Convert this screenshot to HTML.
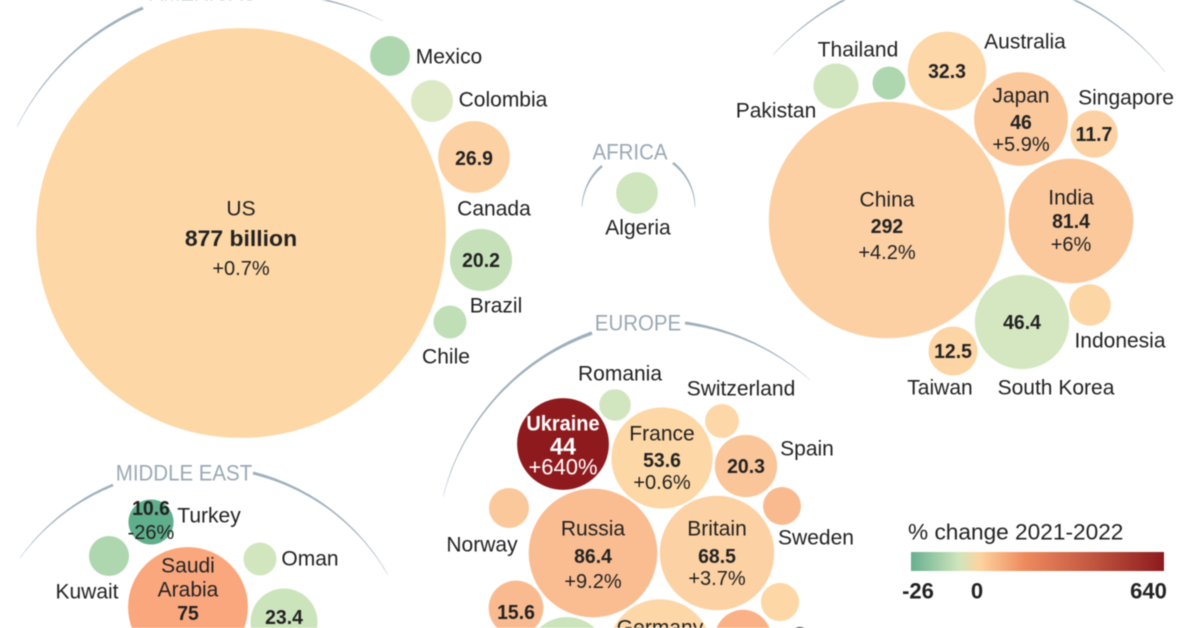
<!DOCTYPE html>
<html lang="en">
<head>
<meta charset="utf-8">
<title>Military spending by country</title>
<style>
  html, body { margin: 0; padding: 0; background: #fff; width: 1200px; height: 628px; overflow: hidden; }
  #chart { display: block; width: 1200px; height: 628px; overflow: hidden; filter: blur(0.4px); font-family: "Liberation Sans", sans-serif; }
</style>
</head>
<body>
<svg id="chart" xmlns="http://www.w3.org/2000/svg" width="1200" height="628" viewBox="0 0 1200 628"></svg>
<script>
/* ---------- data ---------- */
const countries = ["US","Mexico","Colombia","Canada","Brazil","Chile","Algeria","China","Pakistan","Thailand","Australia","Japan","Singapore","India","Indonesia","South Korea","Taiwan","Turkey","Kuwait","Saudi Arabia","Oman","Israel","Ukraine","Romania","France","Switzerland","Spain","Sweden","Norway","Russia","Britain","Netherlands","Greece","Italy","Germany","Poland"];
const spending = [877,8.3,9.2,26.9,20.2,5.7,9.1,292,10.6,5.7,32.3,46,11.7,81.4,9,46.4,12.5,10.6,8.4,75,5.7,23.4,44,5.2,53.6,6,20.3,7.5,8.4,86.4,68.5,15.6,7.6,33.5,55.8,16.6];
const changes = [0.7,-9,-1.5,3,-5,-6,-3.5,4.2,-3,-9,0.5,5.9,3,6,1,-2.5,2,-26,-9,16,-3,-4,640,-3,0.6,0.5,7,10,6,9.2,3.7,10,0.7,-4,0.5,13];
const valueLabels = {"US":"877 billion","Canada":"26.9","Brazil":"20.2","China":"292","Australia":"32.3","Japan":"46","Singapore":"11.7","India":"81.4","South Korea":"46.4","Taiwan":"12.5","Turkey":"10.6","Saudi Arabia":"75","Israel":"23.4","Ukraine":"44","France":"53.6","Spain":"20.3","Russia":"86.4","Britain":"68.5","Netherlands":"15.6","Germany":"55.8"};
const changeLabels = {"US":"+0.7%","China":"+4.2%","Japan":"+5.9%","India":"+6%","Turkey":"-26%","Saudi Arabia":"+16%","Ukraine":"+640%","France":"+0.6%","Russia":"+9.2%","Britain":"+3.7%","Germany":"+2.3%"};
const regionNames = ["AMERICAS","AFRICA","EUROPE","MIDDLE EAST"];
const legendTitle = "% change 2021-2022";
const legendTicks = [-26,0,640];

/* ---------- layout (packing, not data) ---------- */
const packing = {
  "US":[241,233],"Mexico":[390,56],"Colombia":[432,101],"Canada":[474,157],"Brazil":[481,260],"Chile":[450,322],
  "Algeria":[637,193],"China":[887,220],"Pakistan":[836,86],"Thailand":[889,83],"Australia":[947,71],"Japan":[1021,119],
  "Singapore":[1094,134],"India":[1071,221],"Indonesia":[1090,305],"South Korea":[1022,322],"Taiwan":[953,351],
  "Turkey":[151,522],"Kuwait":[109,556],"Saudi Arabia":[188,607],"Oman":[260,559],"Israel":[284,622],
  "Ukraine":[563,444],"Romania":[615,405],"France":[662,458],"Switzerland":[722,421],"Spain":[746,466],"Sweden":[782,506],
  "Norway":[509,508],"Russia":[593,553],"Britain":[717,553],"Netherlands":[516,608],"Greece":[780,602],"Italy":[567,657],
  "Germany":[660,651],"Poland":[743,638]
};
const outerLabels = {
  "Mexico":[449,56],"Colombia":[503,99],"Canada":[494,208],"Brazil":[496,305],"Chile":[446,356],"Algeria":[638,227],
  "Thailand":[858,49],"Pakistan":[776,110],"Australia":[1025,41],"Singapore":[1126,97],"Indonesia":[1120,340],
  "Taiwan":[940,387],"South Korea":[1056,387],"Romania":[620,373],"Switzerland":[741,388],"Spain":[807,448],
  "Sweden":[816,537],"Norway":[482,544],"Turkey":[209,515],"Oman":[310,558],"Kuwait":[87,591],"Greece":[826,634]
};
const innerOffsets = {
  "US":[-25,5,35],"China":[-21,6,32],"Japan":[-24,3,25],"India":[-24,0,23],"Ukraine":[-21,2,23],"France":[-25,2,24],
  "Russia":[-25,3,28],"Britain":[-25,3,25],"Germany":[-24,3,27],"Turkey":[null,-14,10],
  "Saudi Arabia":[-42,6,33],"Canada":[null,1,null],"Brazil":[null,0,null],"Australia":[null,0,null],"Singapore":[null,0,null],
  "South Korea":[null,0,null],"Taiwan":[null,0,null],"Israel":[null,-5,null],"Spain":[null,0,null],"Netherlands":[null,4,null]
};
const regionTitles = [[203,-7],[630,152],[638,323],[184,473]];
const arcs = [
  [143,8,17,127,250,3,0.3],[310,-3,383,21,250,2,0.3],
  [850,-3,773,55,258,2,0.3],[1068,-3,1165,72,258,2,0.3],
  [602,166,582,207,57,2.5,0.5],[673,163,695,207,57,2.5,0.5],
  [592,333,443,497,235,3.4,0.3],[685,323,810,380,235,3,0.3],
  [113,485,20,558,215,2.6,0.3],[253,473,388,575,215,3,0.3]
];

/* ---------- scales ---------- */
function radius(v) { return 6.92 * Math.sqrt(v); }
const colorDomain = [-26,-9,-3,-1.5,0,1,4.2,6,9.2,16,50,640];
const colorRange = ["#5fae8c","#afd7af","#d1e6bf","#dde9c5","#fdd8a8","#fdd6a5","#fcd0a3","#fbc89c","#f9bd91","#faa77d","#ee8a5e","#8e1a1e"];
function hex(c) { return [1,3,5].map(function (i) { return parseInt(c.substr(i,2),16); }); }
function color(ch) {
  for (let i = 0; i < colorDomain.length - 1; i++) {
    if (ch <= colorDomain[i + 1]) {
      const t = Math.max(0, (ch - colorDomain[i]) / (colorDomain[i + 1] - colorDomain[i]));
      const a = hex(colorRange[i]), b = hex(colorRange[i + 1]);
      return "rgb(" + a.map(function (x, k) { return Math.round(x + (b[k] - x) * t); }).join(",") + ")";
    }
  }
  return colorRange[colorRange.length - 1];
}
function legendX(ch) { return ch <= 0 ? 977 + ch / 26 * 59 : 977 + ch / 640 * 171.5; }

/* ---------- helpers ---------- */
const NS = "http://www.w3.org/2000/svg";
const svg = document.getElementById("chart");
function make(tag, attrs, parent) {
  const e = document.createElementNS(NS, tag);
  for (const k in attrs) e.setAttribute(k, attrs[k]);
  (parent || svg).appendChild(e);
  return e;
}
function label(str, x, y, size, fill, weight, anchor, squeeze) {
  const t = make("text", { x: x, y: y + size * 0.35, "font-size": size, fill: fill, "font-weight": weight || "normal", "text-anchor": anchor || "middle" });
  t.textContent = str;
  const w = t.getComputedTextLength();
  t.setAttribute("textLength", (w * (squeeze || 1)).toFixed(1));
  t.setAttribute("lengthAdjust", "spacingAndGlyphs");
  return t;
}
function taperedArc(x0, y0, x1, y1, R, w0, w1) {
  const mx = (x0 + x1) / 2, my = (y0 + y1) / 2, dx = x1 - x0, dy = y1 - y0, len = Math.hypot(dx, dy);
  const h = Math.sqrt(Math.max(0, R * R - len * len / 4));
  const options = [[mx - dy / len * h, my + dx / len * h], [mx + dy / len * h, my - dx / len * h]];
  const c = options[0][1] > options[1][1] ? options[0] : options[1];
  let a0 = Math.atan2(y0 - c[1], x0 - c[0]), a1 = Math.atan2(y1 - c[1], x1 - c[0]);
  if (a1 - a0 > Math.PI) a1 -= 2 * Math.PI;
  if (a0 - a1 > Math.PI) a1 += 2 * Math.PI;
  const outer = [], inner = [];
  for (let i = 0; i <= 40; i++) {
    const t = i / 40, a = a0 + (a1 - a0) * t, w = w0 + (w1 - w0) * t;
    outer.push((c[0] + (R + w / 2) * Math.cos(a)).toFixed(1) + " " + (c[1] + (R + w / 2) * Math.sin(a)).toFixed(1));
    inner.unshift((c[0] + (R - w / 2) * Math.cos(a)).toFixed(1) + " " + (c[1] + (R - w / 2) * Math.sin(a)).toFixed(1));
  }
  return "M" + outer.join("L") + "L" + inner.join("L") + "Z";
}

/* ---------- region arcs and titles ---------- */
arcs.forEach(function (a) {
  const p = make("path", { d: taperedArc(a[0], a[1], a[2], a[3], a[4], a[5], a[6]), fill: "#9fb0bd" });
  
  
});
regionNames.forEach(function (r, i) {
  const t = label(r, regionTitles[i][0], regionTitles[i][1], 22, "#9aa8b4", "normal", "middle", 0.93);
  
  
});

/* ---------- bubbles ---------- */
countries.forEach(function (name, i) {
  const pos = packing[name];
  const slug = name.toLowerCase().replace(/ /g, "-");
  const c = make("circle", { cx: pos[0], cy: pos[1], r: radius(spending[i]).toFixed(2), fill: color(changes[i]) });
  
  
});

/* ---------- labels ---------- */
countries.forEach(function (name, i) {
  const pos = packing[name];
  const slug = name.toLowerCase().replace(/ /g, "-");
  const out = outerLabels[name];
  if (out) {
    const t = label(name, out[0], out[1], 21, "#222", "normal", "middle", 1);
    
    
  }
  const off = innerOffsets[name];
  if (!off) return;
  const big = name === "US";
  const isUkraine = name === "Ukraine";
  const ink = isUkraine ? "#fff" : "#222";
  if (off[0] !== null) {
    const lines = name === "Saudi Arabia" ? ["Saudi", "Arabia"] : [name];
    lines.forEach(function (ln, k) {
      const t = label(ln, pos[0], pos[1] + off[0] + k * 24, 21, ink, isUkraine ? "bold" : "normal", "middle", isUkraine ? 0.95 : 1);
      
      
    });
  }
  if (valueLabels[name]) {
    const t = label(valueLabels[name], pos[0], pos[1] + off[1], big ? 22.5 : (isUkraine ? 24 : 20), ink, "bold", "middle", big ? 1.02 : 0.97);
    
    
  }
  if (changeLabels[name] && off[2] !== null) {
    const t = label(changeLabels[name], pos[0], pos[1] + off[2], isUkraine ? 22 : 20, ink, "normal", "middle", 1);
    
    
  }
});

/* ---------- legend ---------- */
const defs = make("defs", {});
const grad = make("linearGradient", { id: "legendGradient", x1: 0, x2: 1, y1: 0, y2: 0 }, defs);
[[0,"#66b08f"],[0.19,"#d0e5bd"],[0.27,"#fdd49f"],[0.45,"#ee8a5e"],[0.7,"#c45a42"],[1,"#8c1a1e"]].forEach(function (s) {
  make("stop", { offset: s[0], "stop-color": s[1] }, grad);
});
const bar = make("rect", { x: 911, y: 552, width: 253, height: 19, fill: "url(#legendGradient)" });


const lt = label(legendTitle, 908, 532, 22, "#222", "normal", "start", 1.03);


legendTicks.forEach(function (v) {
  const t = label(String(v), legendX(v), 591, 22, "#222", "bold", "middle", 1);
  
  
});
</script>
</body>
</html>
